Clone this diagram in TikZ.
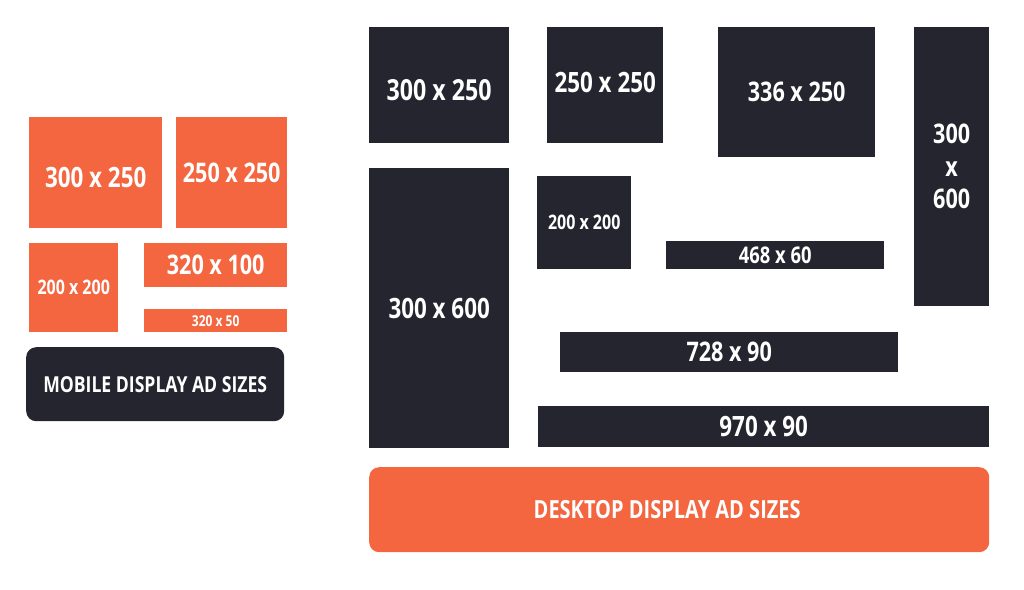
\documentclass[tikz,border=0pt]{standalone}
\usepackage{fontspec}
\setmainfont{Open Sans}[FakeStretch=0.8]
\usepackage{tikz}
\definecolor{adorange}{HTML}{F3663F}
\definecolor{addark}{HTML}{25252F}
\begin{document}
\begin{tikzpicture}[x=1pt,y=-1pt, every node/.style={anchor=north west,inner sep=0pt,align=center,text=white}, fs/.style={font=\bfseries\fontsize{#1}{32.5}\selectfont}, sz/.style 2 args={minimum width=#1pt,minimum height=#2pt}, mob/.style={fill=adorange}, desk/.style={fill=addark}, tag/.style={rounded corners=10pt}]
\useasboundingbox (0,0) rectangle (1024,589);
% mobile sizes
\node[mob,sz={133}{111},fs=28,text height=29pt] (m300) at (29,117) {300 x 250};
\node[mob,sz={111}{111},fs=27] (m250) at (176,117) {250 x 250};
\node[mob,sz={89}{89},fs=20] (m200) at (29,243) {200 x 200};
\node[mob,sz={143}{44},fs=27] (m320a) at (144,243) {320 x 100};
\node[mob,sz={143}{23},fs=15] (m320b) at (144,309) {320 x 50};
\node[desk,tag,sz={258}{74},fs=22] (mtag) at (26,347) {MOBILE DISPLAY AD SIZES};
% desktop sizes
\node[desk,sz={140}{116},fs=29,text height=30pt] (d300) at (369,27) {300 x 250};
\node[desk,sz={116}{116},fs=28,text depth=6pt] (d250) at (547,27) {250 x 250};
\node[desk,sz={157}{130},fs=27] (d336) at (718,27) {336 x 250};
\node[desk,sz={75}{279},fs=27] (dsky) at (914,27) {300\\x\\600};
\node[desk,sz={140}{280},fs=28] (dhalf) at (369,168) {300 x 600};
\node[desk,sz={94}{93},fs=20] (d200) at (537,176) {200 x 200};
\node[desk,sz={218}{28},fs=23] (d468) at (666,241) {468 x 60};
\node[desk,sz={338}{40},fs=27] (d728) at (560,332) {728 x 90};
\node[desk,sz={451}{41},fs=28] (d970) at (538,406) {970 x 90};
\node[mob,tag,sz={620}{85},fs=25] (dtag) at (369,467) {DESKTOP DISPLAY AD SIZES\hspace*{24pt}};
\end{tikzpicture}
\end{document}
